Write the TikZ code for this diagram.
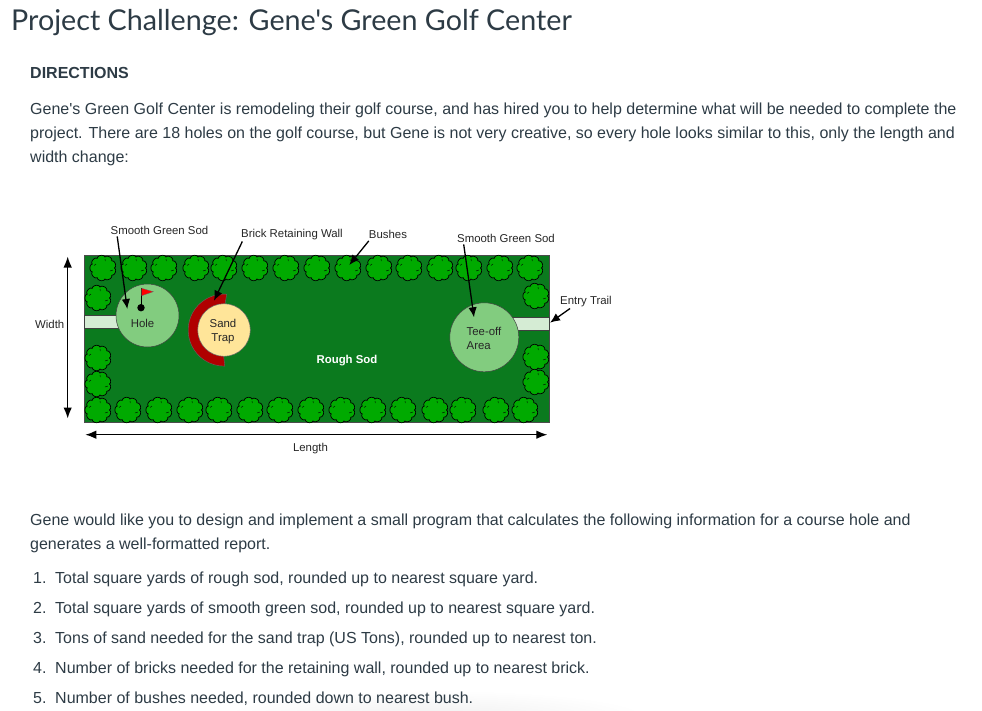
\documentclass[tikz,border=0pt]{standalone}
\usepackage{fontspec}
\setmainfont{Liberation Sans}
\newfontfamily\bodyfont{Liberation Sans}
\newfontfamily\titlefont{Lato}
\usetikzlibrary{arrows.meta}
\definecolor{inktext}{HTML}{2D3B45}
\definecolor{roughsod}{HTML}{0B7A1E}
\definecolor{greensod}{HTML}{82CC7F}
\definecolor{trailsod}{HTML}{D5ECD4}
\definecolor{bushgreen}{HTML}{00AA00}
\definecolor{sandfill}{HTML}{FFE599}
\definecolor{brickred}{HTML}{B00000}
\tikzset{
  bodytext/.style={anchor=base west,inner sep=0pt,text=inktext,font=\bodyfont\fontsize{16}{18}\selectfont},
  figlabel/.style={inner sep=0pt,text=black!85,font=\fontsize{11.4}{13.5}\selectfont,align=center},
  callout/.style={-{Latex[length=10pt,width=8.5pt]},line width=1.3pt,black},
  dimline/.style={{Latex[length=11pt,width=8.5pt]}-{Latex[length=11pt,width=8.5pt]},line width=1.3pt,black},
  sodcircle/.style={circle,draw=black!75,fill=greensod,line width=0.5pt,inner sep=0pt},
  bush/.pic={
    \draw[fill=bushgreen,draw=black,line width=0.7pt,line join=round] plot[domain=0:360,samples=73]
      ({(11.4+1.7*sqrt(abs(sin(4.5*\x))))*cos(\x)},{(11.1+1.7*sqrt(abs(sin(4.5*\x))))*sin(\x)}) -- cycle;
    \draw[black,line width=0.4pt] (7,3) -- (10,2) (-7,-4) -- (-9,-2.5) (2,-9) -- (2.3,-7);
  }
}
\begin{document}
\begin{tikzpicture}[x=1pt,y=-1pt]
\useasboundingbox (0,0) rectangle (982,710);
\begin{scope}
\clip (0,0) rectangle (982,710);
\shade[inner color=black!6,outer color=white,draw=none] (435,718) ellipse (215 and 28);
\end{scope}
\node[anchor=base west,inner sep=0pt,text=inktext,font=\titlefont\fontsize{28.7}{34}\selectfont] (title) at (11,30) {Project Challenge: Gene's Green Golf Center};
\node[bodytext,font=\bodyfont\bfseries\fontsize{16}{18}\selectfont] (directions) at (30,78) {DIRECTIONS};
\node[bodytext] (introa) at (30,114) {Gene's Green Golf Center is remodeling their golf course, and has hired you to help determine what will be needed to complete the};
\node[bodytext] (introb) at (30,138) {project. There are 18 holes on the golf course, but Gene is not very creative, so every hole looks similar to this, only the length and};
\node[bodytext] (introc) at (30,162) {width change:};
\node[bodytext] (reqa) at (30,525) {Gene would like you to design and implement a small program that calculates the following information for a course hole and};
\node[bodytext] (reqb) at (30,549) {generates a well-formatted report.};
\foreach \num/\ypos/\itemtext in {
  1/583/{Total square yards of rough sod, rounded up to nearest square yard.},
  2/613/{Total square yards of smooth green sod, rounded up to nearest square yard.},
  3/643/{Tons of sand needed for the sand trap (US Tons), rounded up to nearest ton.},
  4/673/{Number of bricks needed for the retaining wall, rounded up to nearest brick.},
  5/703/{Number of bushes needed, rounded down to nearest bush.}}{
  \node[bodytext] (num\num) at (33,\ypos) {\num.};
  \node[bodytext] (item\num) at (55,\ypos) {\itemtext};
}
\filldraw[fill=roughsod,draw=black!70,line width=0.4pt] (84,255) rectangle (549.6,422.5);
\draw[black!75,line width=0.5pt,fill=trailsod] (84,315.7) rectangle (120,328.3);
\draw[black!75,line width=0.5pt,fill=trailsod] (510,317.3) rectangle (549.6,330);
\foreach \bx in {103,134,164,196,224,255,286,317,348,379,409,440,469,500,530}
  \pic at (\bx,268) {bush};
\foreach \bx in {98,128,159,190,219,250,280,311,342,373,403,435,463,496,525}
  \pic at (\bx,410) {bush};
\foreach \bx/\by in {98/298,98/358,98/384,536/296,536/357,536/382}
  \pic at (\bx,\by) {bush};
\node[sodcircle,minimum size=63pt] (hole) at (147.5,315.5) {};
\node[sodcircle,minimum size=69pt] (teeoff) at (484.3,337.3) {};
\filldraw[fill=brickred,draw=black!60,line width=0.4pt] (226.7,294.2) arc[start angle=-86,end angle=-271,radius=36] -- (223.4,354) arc[start angle=-271,end angle=-86,radius=24] -- cycle;
\node[circle,draw=black!60,fill=sandfill,line width=0.5pt,inner sep=0pt,minimum size=52.6pt] (trap) at (224,330) {};
\draw[black,line width=0.6pt] (141.7,305) -- (141.7,288.3);
\filldraw[fill=red,draw=black!60,line width=0.3pt] (141.7,288.3) -- (153.3,291.7) -- (141.7,295.7) -- cycle;
\node[circle,fill=black,inner sep=0pt,minimum size=7.4pt] (ball) at (141,307.7) {};
\node[figlabel] (holetext) at (142.5,323.5) {Hole};
\node[figlabel] (traptext) at (223,331.5) {Sand\\Trap};
\node[figlabel,align=left] (teetext) at (484,338.5) {Tee-off\\Area};
\node[figlabel,text=white,font=\bfseries\fontsize{11.4}{13.5}\selectfont] (roughtext) at (347,361) {Rough Sod};
\node[figlabel] (sodlefttext) at (159.5,230) {Smooth Green Sod};
\node[figlabel] (walltext) at (292,234.5) {Brick Retaining Wall};
\node[figlabel] (bushtext) at (388,234.5) {Bushes};
\node[figlabel] (sodrighttext) at (506,238) {Smooth Green Sod};
\node[figlabel] (trailtext) at (586,301.5) {Entry Trail};
\node[figlabel,anchor=east] (widthtext) at (64.5,324.5) {Width};
\node[figlabel] (lengthtext) at (310.5,448.5) {Length};
\coordinate (sodleftend) at (127.3,309);
\coordinate (wallend) at (214,300.7);
\coordinate (bushend) at (349.3,265);
\coordinate (sodrightend) at (474,317.3);
\coordinate (trailend) at (550,322.7);
\coordinate (widthtop) at (67.7,256.5);
\coordinate (widthbot) at (67.7,418.5);
\coordinate (lengthleft) at (85.3,434.7);
\coordinate (lengthright) at (547.3,434.7);
\draw[callout] ([xshift=6.7pt,yshift=-2pt]sodlefttext.south west) -- (sodleftend);
\draw[callout] ([xshift=1.3pt,yshift=-1.5pt]walltext.south west) -- (wallend);
\draw[callout] ([yshift=-2pt]bushtext.south west) -- (bushend);
\draw[callout] ([xshift=6.7pt,yshift=-2pt]sodrighttext.south west) -- (sodrightend);
\draw[callout] ([xshift=10pt,yshift=-1.5pt]trailtext.south west) -- (trailend);
\draw[dimline] (widthtop) -- (widthbot);
\draw[dimline] (lengthleft) -- (lengthright);
\end{tikzpicture}
\end{document}
